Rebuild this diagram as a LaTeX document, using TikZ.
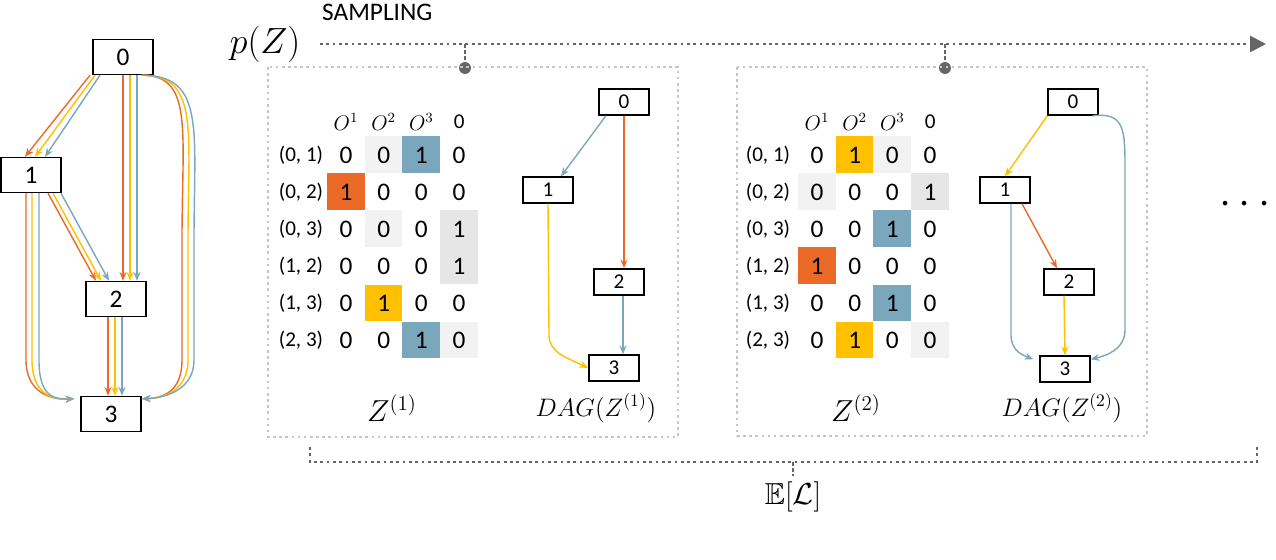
\documentclass[tikz,border=0pt]{standalone}
\usepackage{fontspec}
\usepackage{amssymb}
\setmainfont{Carlito}
\usetikzlibrary{arrows.meta,calc}
\definecolor{orng}{HTML}{EB6A28}
\definecolor{yllw}{HTML}{FFC000}
\definecolor{blu}{HTML}{7BA7BC}
\definecolor{lgry}{HTML}{F2F2F2}
\definecolor{mgry}{HTML}{E6E6E6}
\begin{document}
\begin{tikzpicture}[
    x=0.02cm, y=-0.02cm,
    bigbox/.style={draw, thick, minimum width=1.2cm, minimum height=0.7cm, inner sep=0pt, font=\Large},
    smallbox/.style={draw, thick, minimum width=1.0cm, minimum height=0.52cm, inner sep=0pt, font=\large},
    cell/.style={minimum width=0.76cm, minimum height=0.74cm, inner sep=0pt, font=\Large},
    rowlab/.style={font=\large},
    edg/.style={line width=0.8pt, -{Stealth[length=5pt,width=4pt]}},
    oe/.style={edg, orng}, ye/.style={edg, yllw}, be/.style={edg, blu},
    frame/.style={draw=gray!45, line width=1.5pt, dotted},
    flow/.style={draw=gray!80!black, line width=1.6pt, dotted}
]
\useasboundingbox (0,0) rectangle (1276,560);
% left graph
\node[bigbox] (n0) at (123,57) {0};
\node[bigbox] (n1) at (31,175) {1};
\node[bigbox] (n2) at (116,299) {2};
\node[bigbox] (n3) at (111,414) {3};
\foreach \d/\s in {-9/oe, -4/ye, 1/be}
  \draw[\s] ($(n0.south)+(\d-24,0)$) -- ($(n1.north)+(2*\d+12,0)$);
\foreach \d/\s in {0/oe, 7/ye, 14/be}
  \draw[\s] ($(n0.south)+(\d,0)$) -- ($(n2.north)+(\d+7,0)$);
\foreach \d/\s in {0/oe, 6/ye, 12/be}
  \draw[\s] ($(n0.south east)+(-12,0)$) .. controls ($(n0.south east)+(40+\d,0)$) and (\d+182,130) .. (\d+182,240)
    -- (\d+182,360) .. controls (\d+182,390) and (165,398) .. ($(n3.north east)+(0,3)$);
\foreach \d/\s in {-3/oe, 2/ye, 10/be}
  \draw[\s] ($(n1.south)+(\d+20,0)$) -- ($(n2.north)+(\d-17,0)$);
\foreach \d/\s in {-5/oe, 1/ye, 8/be}
  \draw[\s] ($(n1.south)+(\d,0)$) -- (\d+31,360) .. controls (\d+31,392) and (50,400) .. ($(n3.north west)+(-6,3)$);
\foreach \d/\s in {-8/oe, -1/ye, 6/be}
  \draw[\s] ($(n2.south)+(\d,0)$) -- ($(n3.north)+(\d+5,0)$);
% sampling axis
\node[font=\huge] (pz) at (265,44) {$p(Z)$};
\node[font=\Large, anchor=west] (smp) at (316,12) {SAMPLING};
\coordinate (ax0) at (320,44);
\coordinate (ax1) at (1266,44);
\draw[flow, -{Triangle[length=9pt,width=9pt]}] (ax0) -- (ax1);
\foreach \x/\n in {465/a, 945/b} {
  \coordinate (top\n) at (\x,44);
  \node[circle, fill=gray!80!black, inner sep=2.4pt] (dot\n) at (\x,68) {};
  \draw[gray!80!black, line width=1.4pt, dash pattern=on 2pt off 1.5pt] (top\n) -- (dot\n.north);
}
% sample frames
\draw[frame] (268,67) rectangle (678,437);
\draw[frame] (737,67) rectangle (1147,436);
% matrices
\foreach \m/\lx/\cx in {1/301/346, 2/768/817} {
  \foreach \h [count=\c] in {$O^1$, $O^2$, $O^3$, 0}
    \node[font=\large] (h\m\c) at (\cx+\c*37.7-37.7,122) {\h};
  \foreach \lab [count=\r] in {{(0, 1)},{(0, 2)},{(0, 3)},{(1, 2)},{(1, 3)},{(2, 3)}}
    \node[rowlab] (r\m\r) at (\lx,118+\r*37) {\lab};
}
\foreach \r/\c/\v/\f in {
  1/1/0/white, 1/2/0/lgry, 1/3/1/blu, 1/4/0/white,
  2/1/1/orng, 2/2/0/white, 2/3/0/white, 2/4/0/white,
  3/1/0/white, 3/2/0/lgry, 3/3/0/white, 3/4/1/mgry,
  4/1/0/white, 4/2/0/white, 4/3/0/white, 4/4/1/mgry,
  5/1/0/white, 5/2/1/yllw, 5/3/0/white, 5/4/0/white,
  6/1/0/white, 6/2/0/white, 6/3/1/blu, 6/4/0/lgry}
  \node[cell, fill=\f] (a\r\c) at (346+\c*37.7-37.7,118+\r*37) {\v};
\foreach \r/\c/\v/\f in {
  1/1/0/white, 1/2/1/yllw, 1/3/0/lgry, 1/4/0/white,
  2/1/0/lgry, 2/2/0/white, 2/3/0/white, 2/4/1/mgry,
  3/1/0/white, 3/2/0/white, 3/3/1/blu, 3/4/0/white,
  4/1/1/orng, 4/2/0/white, 4/3/0/white, 4/4/0/white,
  5/1/0/white, 5/2/0/white, 5/3/1/blu, 5/4/0/white,
  6/1/0/white, 6/2/1/yllw, 6/3/0/white, 6/4/0/lgry}
  \node[cell, fill=\f] (b\r\c) at (817+\c*37.7-37.7,118+\r*37) {\v};
\node[font=\LARGE] (z1) at (392,408) {$Z^{(1)}$};
\node[font=\Large] (d1) at (596,408) {$DAG(Z^{(1)})$};
\node[font=\LARGE] (z2) at (856,408) {$Z^{(2)}$};
\node[font=\Large] (d2) at (1062,408) {$DAG(Z^{(2)})$};
% first sample graph
\node[smallbox] (p0) at (624,102) {0};
\node[smallbox] (p1) at (548,190) {1};
\node[smallbox] (p2) at (619,282) {2};
\node[smallbox] (p3) at (614,368) {3};
\draw[be] ($(p0.south)+(-18,0)$) -- ($(p1.north)+(13,0)$);
\draw[oe] (p0.south) -- (p0.south |- p2.north);
\draw[ye] (p1.south) -- (549,335) .. controls (549,352) and (565,357) .. (p3.west);
\draw[be] ($(p2.south)+(4,0)$) -- ($(p3.north)+(9,0)$);
% second sample graph
\node[smallbox] (q0) at (1073,102) {0};
\node[smallbox] (q1) at (1005,190) {1};
\node[smallbox] (q2) at (1069,282) {2};
\node[smallbox] (q3) at (1065,369) {3};
\draw[ye] (q0.south west) -- ($(q1.north)+(0,0)$);
\draw[be] ($(q0.south east)+(-6,0)$) .. controls (1125,112) and (1125,130) .. (1125,170)
  -- (1125,330) .. controls (1125,350) and (1105,356) .. ($(q3.north east)+(0,4)$);
\draw[oe] ($(q1.south)+(17,0)$) -- ($(q2.north)+(-12,0)$);
\draw[be] ($(q1.south)+(6,0)$) -- (1011,335) .. controls (1011,352) and (1025,356) .. ($(q3.north west)+(-6,4)$);
\draw[ye] ($(q2.south)+(-5,0)$) -- ($(q3.north)+(0,0)$);
% more samples
\node[font=\Huge] (more) at (1245,205) {$\cdots$};
% expectation
\coordinate (br0) at (310,447);
\coordinate (br1) at (1257,447);
\coordinate (brm) at (793,462);
\node[font=\LARGE] (el) at (793,497) {$\mathbb{E}[\mathcal{L}]$};
\draw[flow] (br0) -- (310,462) -- (1257,462) -- (br1);
\draw[gray!80!black, line width=1.4pt, dash pattern=on 2pt off 1.5pt] (brm) -- (el.north);
\end{tikzpicture}
\end{document}
